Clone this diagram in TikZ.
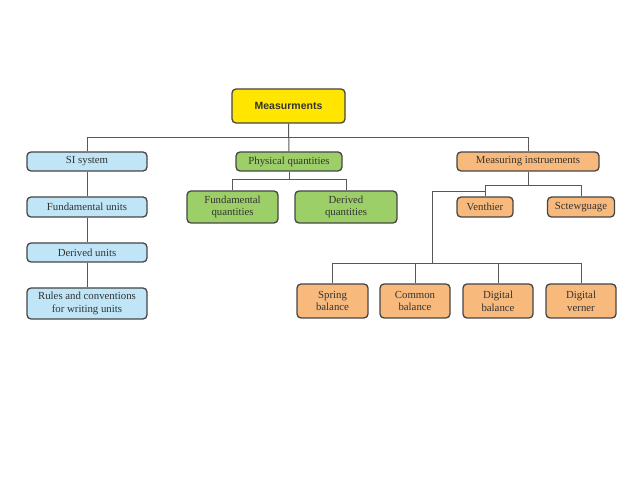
\documentclass[tikz,border=0pt]{standalone}
\usepackage{fontspec}
\setmainfont{Liberation Serif}
\newfontfamily\headfont{Liberation Sans}
\usepackage{tikz}
\definecolor{headyellow}{HTML}{FFE500}
\definecolor{siblue}{HTML}{BFE5F6}
\definecolor{qgreen}{HTML}{9DCF68}
\definecolor{instorange}{HTML}{F8B97C}
\definecolor{edgegrey}{HTML}{454545}
\tikzstyle{box} = [rectangle, rounded corners=4pt, draw=edgegrey, line width=1.3pt, text=black!80, align=center, inner sep=1pt, font=\fontsize{10.8}{12.7}\selectfont]
\tikzstyle{headbox} = [box, minimum width=113pt, minimum height=34pt, fill=headyellow, font=\headfont\bfseries\fontsize{10.5}{12}\selectfont]
\tikzstyle{sibox} = [box, minimum width=120pt, minimum height=19pt, fill=siblue]
\tikzstyle{qbox} = [box, minimum height=32pt, fill=qgreen]
\tikzstyle{instbox} = [box, minimum height=20pt, fill=instorange]
\tikzstyle{balbox} = [box, minimum width=70pt, minimum height=34pt, fill=instorange]
\tikzstyle{line} = [draw=edgegrey!90, line width=1pt]

\begin{document}
\begin{tikzpicture}[x=1pt,y=-1pt,node distance=45.5pt]
\useasboundingbox (0,0) rectangle (638,478);
\node (meas)[headbox] at (288.5,106) {Measurments};
% left branch
\node (si)[sibox] at (87,161.5) {SI system};
\node (fu)[sibox, minimum height=20pt, below of=si] {Fundamental units};
\node (du)[sibox, below of=fu] {Derived units};
\node (rules)[sibox, minimum height=31pt, below of=du, yshift=-5.5pt] {Rules and conventions\\for writing units};
% middle branch
\node (phys)[qbox, minimum width=106pt, minimum height=19pt] at (289,161.5) {Physical quantities};
\node (fq)[qbox, minimum width=91pt, below of=phys, xshift=-56.5pt] {Fundamental\\quantities};
\node (dq)[qbox, minimum width=102pt, right of=fq, xshift=68pt] {Derived\\quantities};
% right branch
\node (mi)[instbox, minimum width=142pt, minimum height=19pt] at (528,161.5) {Measuring instruements};
\node (ven)[instbox, minimum width=56pt, below of=mi, xshift=-43pt] {Venthier};
\node (sct)[instbox, minimum width=67pt, right of=ven, xshift=50.5pt] {Sctewguage};
\node (sb)[balbox, minimum width=71pt] at (332.5,301) {Spring\\balance};
\node (cb)[balbox, right of=sb, xshift=37pt] {Common\\balance};
\node (db)[balbox, right of=cb, xshift=37.5pt] {Digital\\balance};
\node (dv)[balbox, right of=db, xshift=37.5pt] {Digital\\verner};
\coordinate (bal) at (432,264);

\draw [line] (meas.south) -- ++(0,14) -| (si.north);
\draw [line] (meas.south) -- ++(0,14) -| (mi.north);
\draw [line] (meas.south) -- (phys.north);
\draw [line] (si) -- (fu);
\draw [line] (fu) -- (du);
\draw [line] (du) -- (rules);
\draw [line] (phys.south) -- ++(0,8) -| (fq.north);
\draw [line] (phys.south) -- ++(0,8) -| (dq.north);
\draw [line] (mi.south) -- ++(0,14) -| (ven.north);
\draw [line] (mi.south) -- ++(0,14) -| (sct.north);
\draw [line] (ven.north) ++(0,-5) -| (bal);
\draw [line] (bal) -| (sb.north);
\draw [line] (bal) -| (cb.north);
\draw [line] (bal) -| (db.north);
\draw [line] (bal) -| (dv.north);
\end{tikzpicture}
\end{document}
